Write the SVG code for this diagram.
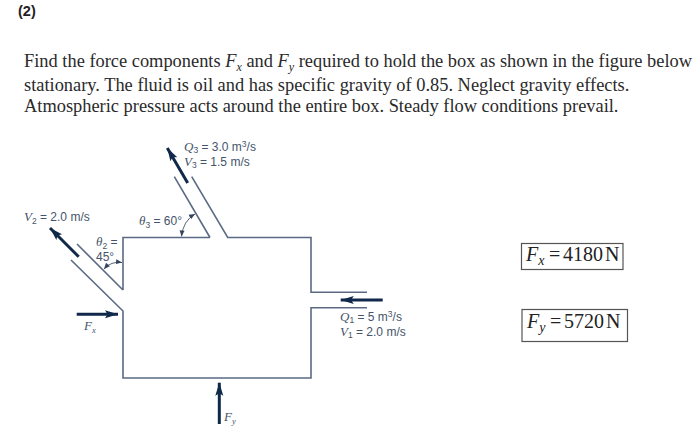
<svg xmlns="http://www.w3.org/2000/svg" width="700" height="442" viewBox="0 0 700 442">
<style>
.body{font-family:"Liberation Serif",serif;font-size:18.4px;fill:#2a2a2a}
.lab{font-family:"Liberation Sans",sans-serif;font-size:12px;fill:#44546a}
.it{font-family:"Liberation Serif",serif;font-style:italic;fill:#44546a;font-size:13px}
.sub{font-size:8.5px}
.wall{fill:none;stroke:#5a6a84;stroke-width:1.6}
.arrow{fill:none;stroke:#10294a;stroke-width:3;marker-end:url(#head)}
.ans{font-family:"Liberation Serif",serif;font-size:20px;fill:#222}
.answer{fill:#fff;stroke:#555;stroke-width:1.2}
.dim{fill:none;stroke:#44546a;stroke-width:.9;marker-end:url(#small);marker-start:url(#smallS)}
</style>
<defs>
<marker id="head" markerUnits="userSpaceOnUse" markerWidth="14" markerHeight="10" refX="13" refY="4" orient="auto"><path d="M0 0L13 4L0 8L2.5 4Z" fill="#10294a"/></marker>
<marker id="small" markerUnits="userSpaceOnUse" markerWidth="7" markerHeight="6" refX="6" refY="3" orient="auto"><path d="M0 .5L6 3L0 5.5Z" fill="#33445c"/></marker>
<marker id="smallS" markerUnits="userSpaceOnUse" markerWidth="7" markerHeight="6" refX="0" refY="3" orient="auto"><path d="M6 .5L0 3L6 5.5Z" fill="#33445c"/></marker>
</defs>
<g id="problem-text">
<text x="18" y="16" font-family="Liberation Sans, sans-serif" font-size="14.5" font-weight="700" fill="#222">(2)</text>
<text class="body" x="24" y="66.5" xml:space="preserve">Find the force components <tspan font-style="italic">F<tspan font-size="12" dy="4">x</tspan></tspan><tspan dy="-4"> and </tspan><tspan font-style="italic">F<tspan font-size="12" dy="4">y</tspan></tspan><tspan dy="-4"> required to hold the box as shown in the figure below</tspan></text>
<text class="body" x="24" y="91">stationary. The fluid is oil and has specific gravity of 0.85. Neglect gravity effects.</text>
<text class="body" x="24" y="112">Atmospheric pressure acts around the entire box. Steady flow conditions prevail.</text>
</g>
<g id="box">
<path class="wall" d="M174.3 176.7L210 237.5M191.7 176.7L227.7 237.5H311V292.3H367M367 307.7H311V378H123V311L71 260M123 290V237.5H210M123 290L77 244"/>
</g>
<g id="connectors">
<path class="arrow" d="M187.7 183L167.3 148"/>
<path class="arrow" d="M78.7 256.7L50 228"/>
<path class="arrow" d="M76.7 314.3H118"/>
<path class="arrow" d="M219.3 424V382.7"/>
<path class="arrow" d="M382.7 300H340.7"/>
<path class="dim" d="M181.5 236.5Q183 221 195 214"/>
<path class="dim" d="M104 269Q111 261 122 262.5"/>
</g>
<g id="label-q3">
<text class="lab" x="184" y="151"><tspan class="it">Q</tspan><tspan class="sub" dy="2">3</tspan><tspan dy="-2"> = 3.0 m</tspan><tspan class="sub" dy="-4">3</tspan><tspan dy="4">/s</tspan></text>
<text class="lab" x="184" y="165.5"><tspan class="it">V</tspan><tspan class="sub" dy="2">3</tspan><tspan dy="-2"> = 1.5 m/s</tspan></text>
</g>
<g id="label-v2"><text class="lab" x="24" y="221"><tspan class="it">V</tspan><tspan class="sub" dy="3">2</tspan><tspan dy="-3"> = 2.0 m/s</tspan></text></g>
<g id="label-theta3"><text class="lab" x="139" y="225"><tspan class="it">θ</tspan><tspan class="sub" dy="3">3</tspan><tspan dy="-3"> = 60°</tspan></text></g>
<g id="label-theta2">
<text class="lab" x="96" y="246"><tspan class="it">θ</tspan><tspan class="sub" dy="3">2</tspan><tspan dy="-3"> =</tspan></text>
<text class="lab" x="96" y="261">45°</text>
</g>
<g id="label-q1">
<text class="lab" x="340" y="321"><tspan class="it">Q</tspan><tspan class="sub" dy="2">1</tspan><tspan dy="-2"> = 5 m</tspan><tspan class="sub" dy="-4">3</tspan><tspan dy="4">/s</tspan></text>
<text class="lab" x="340" y="335.5"><tspan class="it">V</tspan><tspan class="sub" dy="2">1</tspan><tspan dy="-2"> = 2.0 m/s</tspan></text>
</g>
<g id="label-fx"><text class="it" x="84" y="330" font-size="14">F<tspan class="sub" dy="3">x</tspan></text></g>
<g id="label-fy"><text class="it" x="224" y="421" font-size="14">F<tspan class="sub" dy="3">y</tspan></text></g>
<g id="answer-fx">
<rect class="answer" x="521.5" y="243.5" width="101.5" height="26"/>
<text class="ans" x="526" y="261"><tspan font-style="italic">F<tspan font-size="14" dy="4">x</tspan></tspan></text>
<text class="ans" x="549" y="261">=</text>
<text class="ans" x="563" y="261">4180</text>
<text class="ans" x="605" y="261">N</text>
</g>
<g id="answer-fy">
<rect class="answer" x="522" y="309.5" width="105.5" height="32"/>
<text class="ans" x="527" y="328"><tspan font-style="italic">F<tspan font-size="14" dy="4">y</tspan></tspan></text>
<text class="ans" x="550" y="328">=</text>
<text class="ans" x="564" y="328">5720</text>
<text class="ans" x="606" y="328">N</text>
</g>
</svg>
